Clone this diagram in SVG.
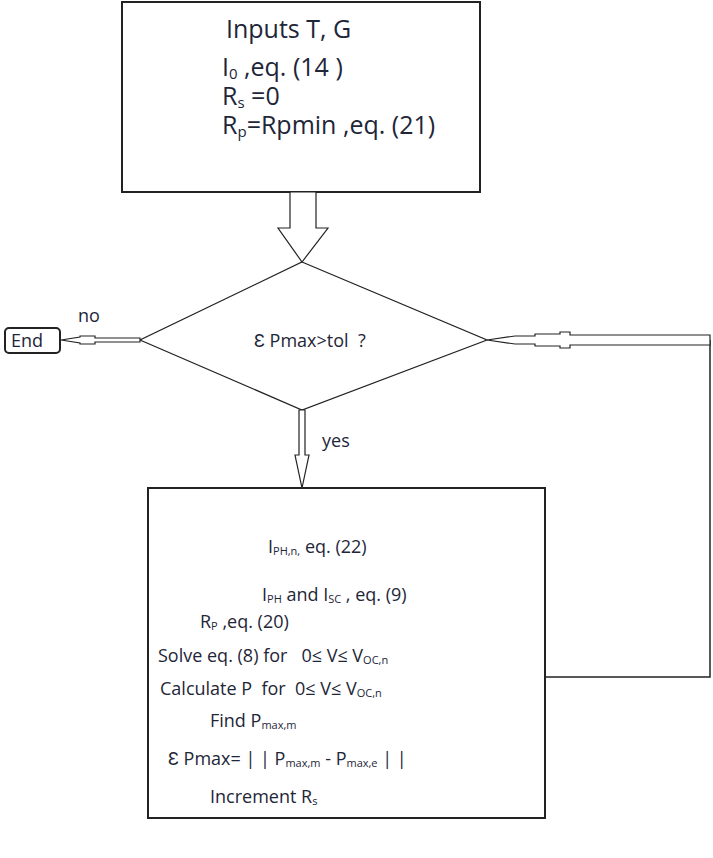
<svg xmlns="http://www.w3.org/2000/svg" width="713" height="858" viewBox="0 0 713 858">
<style>
.box{fill:#fff;stroke:#222;stroke-width:2}
.ln{fill:none;stroke:#222;stroke-width:1.5}
.dg{fill:#fff;stroke:#222;stroke-width:1.2}
text{font-family:"Open Sans","Liberation Sans",sans-serif;font-size:18px;fill:#1e2638;white-space:pre}
.t{font-size:25px}
.s{font-size:11px}
.st{font-size:15px}
</style>
<rect width="713" height="858" fill="#fff"/>
<g id="start">
<rect class="box" x="122" y="2" width="358" height="190"/>
<text class="t" x="226" y="38">Inputs T, G</text>
<text class="t" x="222" y="76">I<tspan class="st" dy="3">0</tspan><tspan dy="-3"> ,eq. (14 )</tspan></text>
<text class="t" x="222" y="105">R<tspan class="st" dy="3">s</tspan><tspan dy="-3"> =0</tspan></text>
<text class="t" x="222" y="134">R<tspan class="st" dy="3">p</tspan><tspan dy="-3">=Rpmin ,eq. (21)</tspan></text>
</g>
<g id="decision">
<polygon class="dg" points="302,262 487,340 302,410 140,340"/>
<text x="254" y="347" font-size="19">Ɛ Pmax&gt;tol  ?</text>
</g>
<g id="end">
<rect class="box" x="5" y="328" width="55" height="25" rx="4" stroke-width="1.5"/>
<text x="11" y="347">End</text>
</g>
<g id="process">
<rect class="box" x="148" y="488" width="397" height="330"/>
<text x="268" y="553">I<tspan class="s" dy="2">PH,n,</tspan><tspan dy="-2"> eq. (22)</tspan></text>
<text x="262" y="601">I<tspan class="s" dy="2">PH</tspan><tspan dy="-2"> and I</tspan><tspan class="s" dy="2">SC</tspan><tspan dy="-2"> , eq. (9)</tspan></text>
<text x="200" y="628">R<tspan class="s" dy="2">P</tspan><tspan dy="-2"> ,eq. (20)</tspan></text>
<text x="158" y="662">Solve eq. (8) for   0≤ V≤ V<tspan class="s" dy="2">OC,n</tspan></text>
<text x="160" y="695">Calculate P  for  0≤ V≤ V<tspan class="s" dy="2">OC,n</tspan></text>
<text x="210" y="727">Find P<tspan class="s" dy="2">max,m</tspan></text>
<text x="168" y="765">Ɛ Pmax= | | P<tspan class="s" dy="2">max,m</tspan><tspan dy="-2"> - P</tspan><tspan class="s" dy="2">max,e</tspan><tspan dy="-2"> | |</tspan></text>
<text x="210" y="803">Increment R<tspan class="s" dy="2">s</tspan></text>
</g>
<g id="connectors">
<polygon class="dg" stroke-width="1.5" points="290,192 316,192 316,228 328,228 302,262 278,228 290,228"/>
<polygon class="dg" points="299,410 305,410 305,455 309,455 302,488 295,455 299,455"/>
<polygon class="dg" points="140,338 95,338 95,336 80,336 80,337 61,340 80,343 80,344 95,344 95,342 140,342"/>
<path class="ln" d="M710,340 V677 H545"/>
<polygon class="dg" stroke-width="1.5" points="487,340 515,336 535,336 535,334 560,334 560,332 570,332 570,335 710,335 710,345 570,345 570,348 560,348 560,346 535,346 535,344 515,344"/>
<text x="322" y="447" font-size="21">yes</text>
<text x="78" y="322" font-size="21">no</text>
</g>
</svg>
